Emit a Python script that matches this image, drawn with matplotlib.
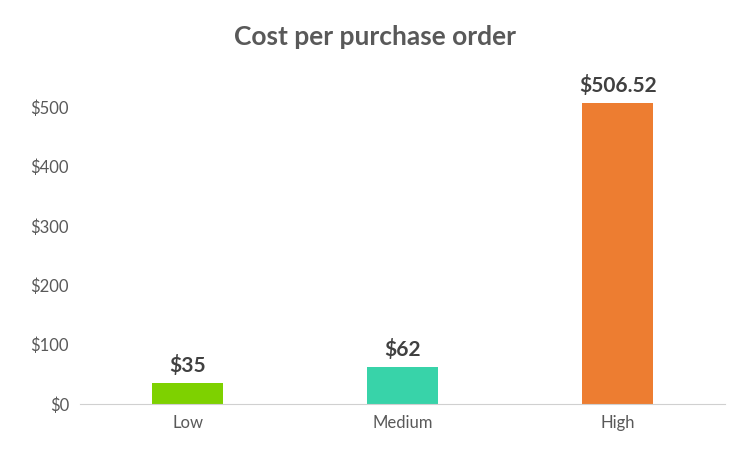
import matplotlib.pyplot as plt

plt.rcParams['font.family'] = ['Lato', 'DejaVu Sans']

categories = ['Low', 'Medium', 'High']
costs = [35, 62, 506.52]
labels = ['$35', '$62', '$506.52']
colors = ['#7ED100', '#38D3A9', '#ED7D31']
yticks = [0, 100, 200, 300, 400, 500]

fig = plt.figure(figsize=(7.5, 4.49), dpi=100)
ax = fig.add_axes([0.107, 0.1, 0.86, 0.728])

x = range(len(categories))
ax.bar(x, costs, width=0.33, color=colors)
for i, (v, t) in enumerate(zip(costs, labels)):
    ax.text(i, v + 12, t, ha='center', va='bottom', fontsize=15,
            fontweight='bold', color='#404040')

ax.set_xlim(-0.5, 2.5)
ax.set_ylim(0, 550)
ax.set_xticks(list(x))
ax.set_xticklabels(categories)
ax.set_yticks(yticks)
ax.set_yticklabels(['$' + str(t) for t in yticks])
ax.tick_params(axis='both', length=0, labelsize=12, colors='#595959', pad=8)
for s in ['top', 'right', 'left']:
    ax.spines[s].set_visible(False)
ax.spines['bottom'].set_color('#D0D0D0')

fig.suptitle('Cost per purchase order', y=0.945, fontsize=19,
             fontweight='bold', color='#595959')

fig.savefig('out.png')
